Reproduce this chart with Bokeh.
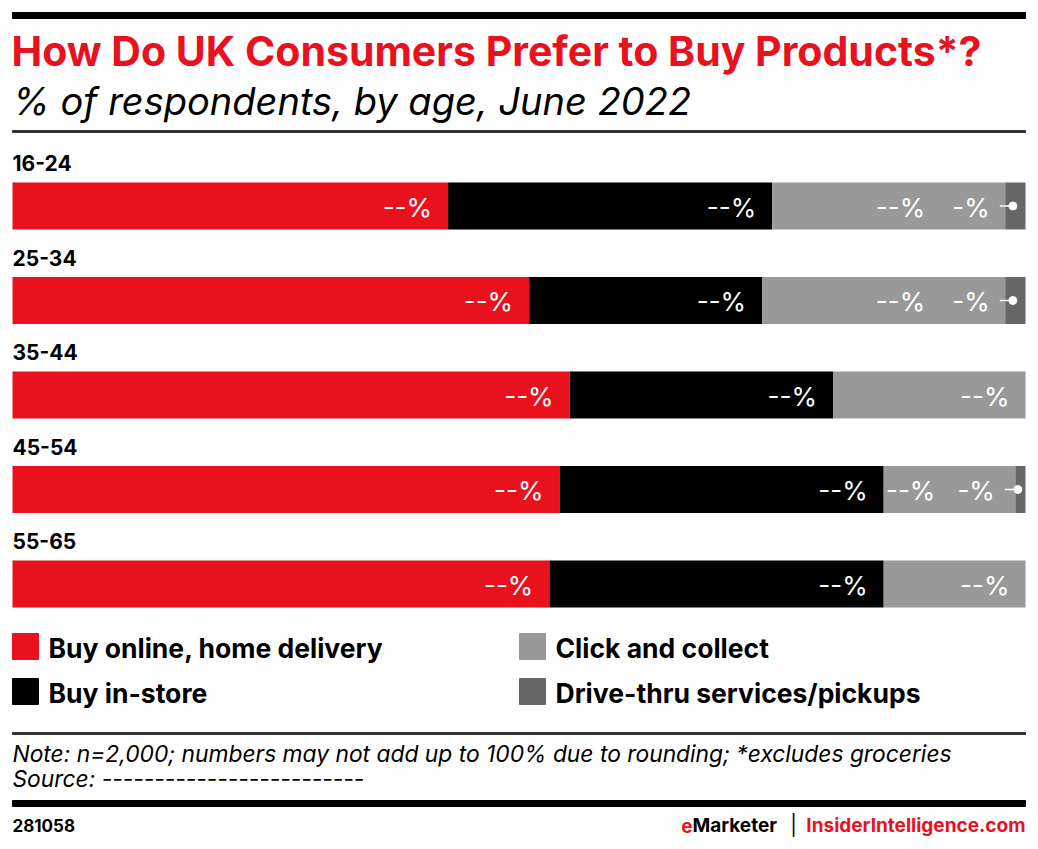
from bokeh.plotting import figure
from bokeh.models import Range1d
from bokeh.core.properties import value
from bokeh.embed import file_html
from bokeh.resources import INLINE

# ---- data ----
ages = ["16-24", "25-34", "35-44", "45-54", "55-65"]
online = [43, 51, 55, 54, 53]
instore = [32, 23, 26, 32, 33]
click = [23, 24, 19, 13, 14]
drive = [2, 2, 0, 1, 0]
series_names = ["Buy online, home delivery", "Buy in-store", "Click and collect", "Drive-thru services/pickups"]
series_colors = ["#E9111E", "#000000", "#999999", "#666666"]
seg_label = "--%"
small_label = "-%"

title = "How Do UK Consumers Prefer to Buy Products*?"
subtitle = "% of respondents, by age, June 2022"
note = "Note: n=2,000; numbers may not add up to 100% due to rounding; *excludes groceries"
source = "Source: -------------------------"
chart_id = "281058"

# ---- layout ----
W, H = 1038, 849
LEFT, RIGHT = 12, 1025
scale = (RIGHT - LEFT) / 100.0


def px(x):
    return (x - LEFT) / scale


FONT = "Inter"

p = figure(width=W, height=H, output_backend="svg", toolbar_location=None,
           x_range=Range1d(px(0), px(W)), y_range=Range1d(H, 0), min_border=0)
p.axis.visible = False
p.grid.visible = False
p.outline_line_color = None
p.background_fill_color = "white"

# rules
p.rect(x=[px((LEFT + RIGHT) / 2)], y=[15], width=[100], height=[6], color="black")
p.rect(x=[px((LEFT + RIGHT) / 2)], y=[131], width=[100], height=[2], color="#333333")
p.rect(x=[px((LEFT + RIGHT) / 2)], y=[733], width=[100], height=[2], color="#333333")
p.rect(x=[px((LEFT + RIGHT) / 2)], y=[803], width=[100], height=[6], color="black")

# title
p.text(x=[px(LEFT - 1)], y=[50], text=[title], text_color="#E9111E", text_font=value(FONT),
       text_font_style="bold", text_font_size="41px", text_baseline="middle")
p.text(x=[px(LEFT)], y=[100], text=[subtitle], text_color="black", text_font=value(FONT),
       text_font_style="italic", text_font_size="38px", text_baseline="middle")

# bars
row0, row_step, bar_h = 205.5, 94.5, 47
rows = [row0 + i * row_step for i in range(len(ages))]
series = [online, instore, click, drive]
lefts = [0.0] * len(ages)
rights_all = []
for vals, col in zip(series, series_colors):
    rights = [l + v for l, v in zip(lefts, vals)]
    p.hbar(y=rows, left=lefts, right=rights, height=bar_h, color=col, line_color=None)
    rights_all.append(rights)
    lefts = rights

pad = 16 / scale
label_size = "26px"
for i, age in enumerate(ages):
    y = rows[i]
    p.text(x=[px(LEFT)], y=[y - 43], text=[age], text_font=value(FONT), text_font_style="bold",
           text_font_size="21px", text_baseline="middle", text_color="black")
    # online / instore labels
    for k in range(2):
        p.text(x=[rights_all[k][i] - pad], y=[y + 1], text=[seg_label], text_color="white",
               text_font=value(FONT), text_font_size=label_size, text_align="right",
               text_baseline="middle")
    if drive[i] > 0:
        dot_x = rights_all[2][i] + drive[i] / 2
        dot_x = dot_x - 0.25
        p.segment(x0=[dot_x - 13 / scale], y0=[y], x1=[dot_x], y1=[y], line_color="white", line_width=1.5)
        p.scatter(x=[dot_x], y=[y], size=8, color="white")
        p.text(x=[dot_x - 23 / scale], y=[y + 1], text=[small_label], text_color="white",
               text_font=value(FONT), text_font_size=label_size, text_align="right",
               text_baseline="middle")
        p.text(x=[rights_all[2][i] - 80 / scale], y=[y + 1], text=[seg_label], text_color="white",
               text_font=value(FONT), text_font_size=label_size, text_align="right",
               text_baseline="middle")
    else:
        p.text(x=[rights_all[2][i] - pad], y=[y + 1], text=[seg_label], text_color="white",
               text_font=value(FONT), text_font_size=label_size, text_align="right",
               text_baseline="middle")

# legend
leg_pos = [(12, 646), (12, 691), (519, 646), (519, 691)]
for (lx, ly), name, col in zip(leg_pos, series_names, series_colors):
    p.rect(x=[px(lx + 13)], y=[ly], width=[26 / scale], height=[26], color=col)
    p.text(x=[px(lx + 36)], y=[ly + 1], text=[name], text_font=value(FONT), text_font_style="bold",
           text_font_size="26.5px", text_baseline="middle", text_color="black")

# note and source
p.text(x=[px(LEFT)], y=[753], text=[note], text_font=value(FONT), text_font_style="italic",
       text_font_size="22.8px", text_baseline="middle", text_color="black")
p.text(x=[px(LEFT)], y=[778], text=[source], text_font=value(FONT), text_font_style="italic",
       text_font_size="22.8px", text_baseline="middle", text_color="black")

# footer
p.text(x=[px(LEFT)], y=[825], text=[chart_id], text_font=value(FONT), text_font_style="bold",
       text_font_size="17px", text_baseline="middle", text_color="black")
p.text(x=[px(RIGHT)], y=[825], text=["InsiderIntelligence.com"], text_font=value(FONT),
       text_font_style="bold", text_font_size="19px", text_baseline="middle", text_align="right",
       text_color="#E9111E")
p.text(x=[px(793)], y=[824], text=["|"], text_font=value(FONT),
       text_font_style="normal", text_font_size="20px", text_baseline="middle", text_align="center",
       text_color="black")
p.text(x=[px(692)], y=[825], text=["Marketer"], text_font=value(FONT),
       text_font_style="bold", text_font_size="19px", text_baseline="middle", text_align="left",
       text_color="black")
p.text(x=[px(692)], y=[825], text=["e"], text_font=value(FONT),
       text_font_style="bold", text_font_size="19px", text_baseline="middle", text_align="right",
       text_color="#E9111E")

open("out.html", "w").write(file_html(p, INLINE))
